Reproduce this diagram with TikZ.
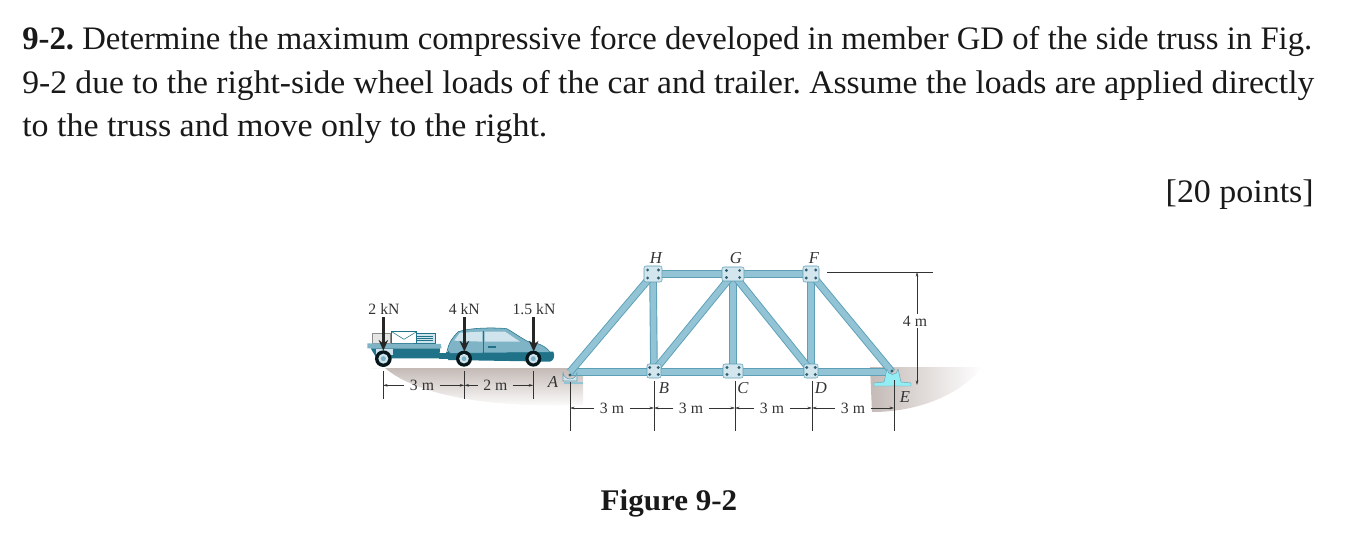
\documentclass[tikz,border=0pt]{standalone}
\usepackage{fontspec}
\setmainfont{Liberation Serif}
\newfontfamily\headfont[FakeStretch=1.035]{Liberation Serif}
\usetikzlibrary{arrows.meta,calc}
\definecolor{barD}{HTML}{5C9FB6}
\definecolor{barL}{HTML}{93C4D5}
\definecolor{plate}{HTML}{D3E6ED}
\definecolor{rivet}{HTML}{2F5F70}
\definecolor{carM}{HTML}{7FB3C6}
\definecolor{carD}{HTML}{1F7288}
\definecolor{carL}{HTML}{CFE4EC}
\definecolor{dimc}{HTML}{333333}
\definecolor{gnd}{HTML}{C4BAB6}
\tikzset{
  bar/.style={draw=barD,line width=.7pt,double=barL,double distance=4.3pt},
  chord/.style={draw=barD,line width=.8pt,double=barL,double distance=4.8pt},
  head/.style={font=\headfont\fontsize{24.6}{26}\selectfont\frenchspacing,anchor=base west,inner sep=0pt,text=black!90},
  small/.style={font=\fontsize{11.8}{12}\selectfont,text=black!80,inner sep=1.5pt},
  letter/.style={font=\itshape\fontsize{12.5}{13}\selectfont,text=black!80,inner sep=0pt},
  dimline/.style={draw=dimc,line width=.45pt},
  dimtip/.style={dimline,-{Stealth[length=3.5pt,width=2pt]}},
  plt/.style={fill=plate,draw=barD,line width=.4pt},
  riv/.style={fill=rivet,draw=none,circle,inner sep=0pt,minimum size=2.4pt},
  load/.style={draw=black!85,line width=1.8pt,-{Stealth[length=8pt,width=7pt]}}
}
\begin{document}
\begin{tikzpicture}[x=0.75pt,y=-0.75pt]
\useasboundingbox (0,0) rectangle (1351,534);
% text
\node[head] (l1) at (22,50) {\resizebox{967.5pt}{\height}{\textbf{9-2.} Determine the maximum compressive force developed in member GD of the side truss in Fig.}};
\node[head] (l2) at (22,94) {\resizebox{969pt}{\height}{9-2 due to the right-side wheel loads of the car and trailer. Assume the loads are applied directly}};
\node[head] (l3) at (22,137) {to the truss and move only to the right.};
\node[head,anchor=base east] (pts) at (1314,203) {[20 points]};
\node[font=\headfont\bfseries\fontsize{22.5}{24}\selectfont,text=black!90,inner sep=0pt] (fig) at (669,503) {Figure 9-2};
% ground
\path[top color=gnd,bottom color=white] (372,368) -- (583,368) -- (583,405) .. controls (500,408) and (420,398) .. (385,368) -- cycle;
\path[left color=gnd,right color=white] (870,367) -- (982,367) .. controls (965,390) and (925,412) .. (872,412) -- cycle;
% joints
\coordinate (A) at (570,372); \coordinate (B) at (654,371); \coordinate (C) at (733,371);
\coordinate (D) at (811,371); \coordinate (E) at (892,372);
\coordinate (H) at (653,274); \coordinate (G) at (733,274); \coordinate (F) at (811,274);
% members
\draw[chord] (A) -- (E);
\draw[chord] (H) -- (F);
\draw[bar] (H) -- (B);
\draw[bar] (G) -- (C);
\draw[bar] (F) -- (D);
\draw[bar] (A) -- (H);
\draw[bar] (B) -- (G);
\draw[bar] (G) -- (D);
\draw[bar] (F) -- (E);
% gusset plates
\foreach \n/\w/\h in {H/9/8,G/11/7,F/8/8,B/7/7,C/10/7,D/7/7}{
  \path[plt,rounded corners=1.5pt] ($(\n)+(-\w,-\h)$) rectangle ($(\n)+(\w,\h)$);
  \node[riv] at ($(\n)+(-.6*\w,-.5*\h)$) {};
  \node[riv] at ($(\n)+(.6*\w,-.5*\h)$) {};
  \node[riv] at ($(\n)+(-.6*\w,.5*\h)$) {};
  \node[riv] at ($(\n)+(.6*\w,.5*\h)$) {};
}
% support A
\path[plt] (563,381) -- (563,372) arc[start angle=180,end angle=0,radius=7] -- (577,381) -- cycle;
\node[riv] at (570,375) {};
\path[fill=barL] (564,382) rectangle (583,384);
% support E
\path[fill=plate!70!cyan,draw=barD,line width=.3pt] (874,386) -- (874,383) -- (884,382) -- (887,369) arc[start angle=180,end angle=0,radius=5.5] -- (901,382) -- (911,383) -- (911,386) -- cycle;
\node[riv] at (892,371) {};
% member letters
\node[letter] (lH) at (656,258) {H};
\node[letter] (lG) at (736,258) {G};
\node[letter] (lF) at (814,258) {F};
\node[letter] (lB) at (664,388) {B};
\node[letter] (lC) at (743,388) {C};
\node[letter] (lD) at (821,388) {D};
\node[letter] (lE) at (905,397) {E};
\node[letter] (lA) at (553,382) {A};
% truss dimensions
\coordinate (tA) at (570,382); \coordinate (bA) at (570,431);
\coordinate (tB) at (654,381); \coordinate (bB) at (654,431);
\coordinate (tC) at (735,381); \coordinate (bC) at (735,431);
\coordinate (tD) at (812,381); \coordinate (bD) at (812,431);
\coordinate (tE) at (894,380); \coordinate (bE) at (894,431);
\foreach \p in {A,B,C,D,E}{\draw[dimline] (t\p) -- (b\p);}
\node[small,inner xsep=4pt] (d1) at (612,408) {3 m};
\node[small,inner xsep=4pt] (d2) at (691,408) {3 m};
\node[small,inner xsep=4pt] (d3) at (772,408) {3 m};
\node[small,inner xsep=4pt] (d4) at (853,408) {3 m};
\foreach \l/\r/\m in {A/B/d1,B/C/d2,C/D/d3,D/E/d4}{
  \draw[dimtip] (\m.west) -- (\m.west -| t\l);
  \draw[dimtip] (\m.east) -- (\m.east -| t\r);
}
% height dimension
\coordinate (hL) at (827,272); \coordinate (hR) at (933,272);
\coordinate (hT) at (917,272); \coordinate (hB) at (917,385);
\draw[dimline] (hL) -- (hR);
\node[small] (d5) at (915,321) {4 m};
\draw[dimtip] (d5.north -| hT) -- (hT);
\draw[dimtip] (d5.south -| hT) -- (hB);
% vehicles, drawn in the 3x coordinates of the crop at (350,240)
\begin{scope}[shift={(350,240)},x=0.25pt,y=-0.25pt]
  % trailer
  \path[fill=black!10,draw=black!45,line width=.3pt] (67,280) rectangle (120,310);
  \path[fill=white,draw=carD,line width=.5pt] (125,273) rectangle (200,310);
  \draw[carD,line width=.4pt] (125,275) -- (162,298) -- (200,275);
  \path[fill=carL,draw=carD,line width=.4pt] (200,281) rectangle (255,310);
  \foreach \yy in {288,295,302}{\draw[carD,line width=.5pt] (202,\yy) -- (250,\yy);}
  \path[fill=carM] (52,310) -- (272,312) -- (275,325) -- (52,325) -- cycle;
  \path[fill=carD] (62,325) -- (270,325) -- (268,355) -- (80,355) -- cycle;
  \path[fill=carD] (268,340) rectangle (300,356);
  \path[fill=carL] (78,328) rectangle (130,345);
  % car
  \path[fill=carD] (288,335) -- (610,335) .. controls (616,350) and (610,362) .. (600,365) -- (295,360) -- cycle;
  \path[fill=carM,draw=carD,line width=.4pt] (292,330) .. controls (296,310) and (305,295) .. (325,275)
     .. controls (360,263) and (430,262) .. (470,266) .. controls (495,280) and (515,295) .. (535,305)
     .. controls (565,308) and (590,320) .. (600,337) -- (300,340) -- cycle;
  \path[fill=carL] (312,302) -- (330,278) -- (397,275) -- (397,305) -- cycle;
  \path[fill=carL] (404,275) -- (465,275) -- (510,305) -- (404,305) -- cycle;
  \draw[carD,line width=.4pt] (400,272) -- (400,360);
  \path[fill=carD] (415,319) rectangle (437,324);
  % wheels
  \foreach \xx/\yy/\rr in {100/356/25,342/356/24,550/356/24}{
    \path[fill=black!80!carD] (\xx,\yy) circle[radius=\rr];
    \path[fill=carL] (\xx,\yy) circle[radius=.6*\rr];
    \path[fill=carM] (\xx,\yy) circle[radius=.3*\rr];
  }
  % loads
  \node[small] (p1) at (102,208) {2 kN};
  \node[small] (p2) at (343,208) {4 kN};
  \node[small] (p3) at (552,208) {1.5 kN};
  \coordinate (w1) at (100,332); \coordinate (w2) at (343,335); \coordinate (w3) at (551,335);
  \draw[load] (p1.south -| w1) -- (w1);
  \draw[load] (p2.south -| w2) -- (w2);
  \draw[load] (p3.south -| w3) -- (w3);
  % dimensions
  \coordinate (c1) at (99,392); \coordinate (c1b) at (99,478);
  \coordinate (c2) at (343,392); \coordinate (c2b) at (343,478);
  \coordinate (c3) at (550,392); \coordinate (c3b) at (550,478);
  \draw[dimline] (c1) -- (c1b); \draw[dimline] (c2) -- (c2b); \draw[dimline] (c3) -- (c3b);
  \node[small,inner xsep=4pt] (v1) at (216,436) {3 m};
  \node[small,inner xsep=4pt] (v2) at (436,436) {2 m};
  \draw[dimtip] (v1.west) -- (v1.west -| c1);
  \draw[dimtip] (v1.east) -- (v1.east -| c2);
  \draw[dimtip] (v2.west) -- (v2.west -| c2);
  \draw[dimtip] (v2.east) -- (v2.east -| c3);
\end{scope}
\end{tikzpicture}
\end{document}
